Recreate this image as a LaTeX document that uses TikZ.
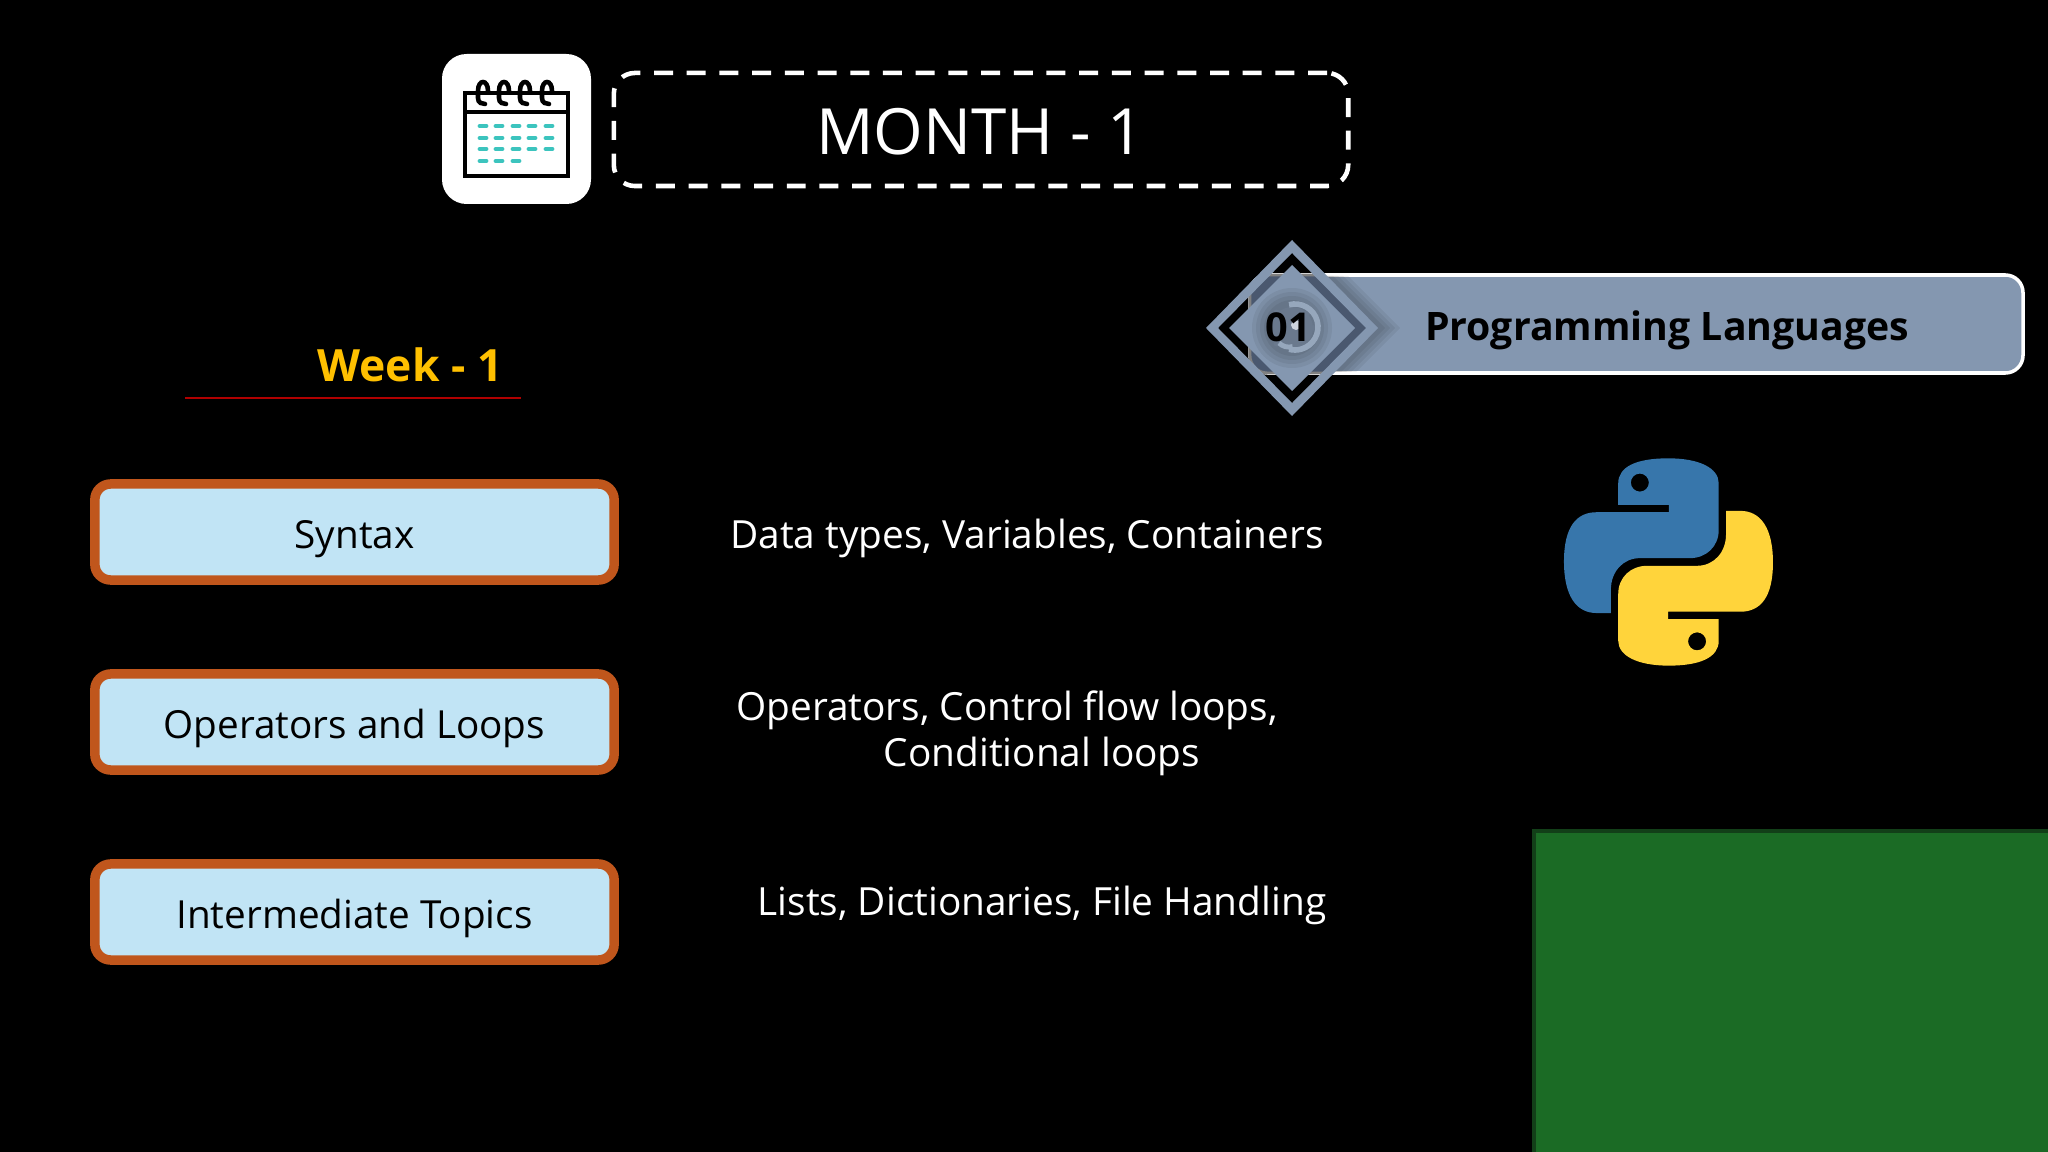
\documentclass[tikz,border=0pt]{standalone}
\usepackage{fontspec}
\setmainfont{Open Sans}
\usepackage{tikz}
\usetikzlibrary{positioning,calc}
\definecolor{topicfill}{HTML}{C1E4F5}
\definecolor{topicline}{HTML}{C0561C}
\definecolor{slate}{HTML}{8497B0}
\definecolor{slatedark}{HTML}{4A586F}
\definecolor{calteal}{HTML}{3CC4BE}
\definecolor{pyblue}{HTML}{3776AB}
\definecolor{pyyellow}{HTML}{FFD43B}
\definecolor{weekgold}{HTML}{FFC000}
\definecolor{weekred}{HTML}{B00000}
\definecolor{panelgreen}{HTML}{1B6B25}
\definecolor{paneledge}{HTML}{123F18}
\begin{document}
\begin{tikzpicture}[x=0.01cm,y=-0.01cm,line cap=butt,
    topicbox/.style={draw=topicline,fill=topicfill,line width=2.7pt,rounded corners=4.5pt,
        minimum width=5.19cm,minimum height=0.96cm,inner sep=0pt,text=black,text height=9.1pt,text depth=0pt,
        font=\fontsize{11}{13}\selectfont},
    topictext/.style={text=white,inner sep=0pt,font=\fontsize{11.03}{13}\selectfont}]

    % background
    \fill[black] (0,0) rectangle (2048,1152);
    \useasboundingbox (0,0) rectangle (2048,1152);

    % calendar icon
    \fill[white,rounded corners=7pt] (442,54) rectangle (591,204);
    \draw[black,line width=1.25pt] (465,93) rectangle (568,176);
    \draw[black,line width=1.25pt] (465,112) -- (568,112);
    \foreach \x in {483,504,525,547} {
        \draw[black,line width=1.3pt,line cap=round] (\x+5,91) .. controls (\x+5,79) and (\x-5,79) .. (\x-5,91)
            -- (\x-5,98) .. controls (\x-5,103) and (\x-1,104) .. (\x+2,104);
    }
    \foreach \y in {126,138,149} {
        \foreach \x in {483,499,516,532,549} {
            \draw[calteal,line width=1.4pt,line cap=round] (\x-3,\y) -- (\x+3,\y);
        }
    }
    \foreach \x in {483,499,516} {
        \draw[calteal,line width=1.4pt,line cap=round] (\x-3,161) -- (\x+3,161);
    }

    % month title
    \node[draw=white,line width=1.3pt,dash pattern=on 5.4pt off 3.9pt,rounded corners=6pt,
        minimum width=7.34cm,minimum height=1.13cm,inner sep=0pt] (monthbox) at (981,129.5) {};
    \node[text=white,inner sep=0pt,font=\fontsize{18.13}{22}\selectfont] (monthtext) at (980,132) {MONTH - 1};

    % ribbon with the diamond on it
    \draw[white,line width=1pt,fill=slate,rounded corners=5pt] (1250,275) rectangle (2023,373);
    \begin{scope}
        \clip[rounded corners=5pt] (1250,276) rectangle (2022,372);
        \foreach \r in {108,103,98,93} {
            \fill[black,opacity=0.06] (1292-\r,328) -- (1292,328-\r) -- (1292+\r,328) -- (1292,328+\r) -- cycle;
        }
        \fill[slatedark] (1217,328) -- (1292,253) -- (1367,328) -- (1292,403) -- cycle;
    \end{scope}
    \begin{scope}
        \clip (1217,328) -- (1292,253) -- (1367,328) -- (1292,403) -- cycle;
        \draw[gray,line width=0.8pt,rounded corners=5pt] (1250,275) rectangle (2023,373);
    \end{scope}
    \fill[slate,even odd rule] (1206,328) -- (1292,240) -- (1378,328) -- (1292,416) -- cycle
        (1218,328) -- (1292,253) -- (1366,328) -- (1292,403) -- cycle;
    \fill[slate] (1229,328) -- (1292,265) -- (1355,328) -- (1292,391) -- cycle;

    % gear behind the number
    \foreach \r in {40,36,32,28} {
        \fill[black,opacity=0.06] (1292,328) circle (\r);
    }
    \fill[slate!80!black] (1292,328) circle (21);
    \foreach \a in {0,45,...,315} {
        \fill[slate!80!black] (1292,328) ++(\a:22) circle (3);
    }
    \fill[slate!40!white] (1296,325) circle (5);
    \draw[slate!85!white,line width=1.6pt] (1295,327) ++(-105:23) arc[start angle=-105,end angle=105,radius=23];
    \draw[slate!85!white,line width=1.4pt] (1279,343) arc[start angle=135,end angle=75,radius=14];

    \node[text=black,inner sep=0pt,font=\fontsize{11.3}{13}\selectfont\bfseries] (number) at (1288,327) {01};
    \node[text=black,inner sep=0pt,font=\fontsize{11.15}{13}\selectfont\bfseries] (language) at (1667,330) {Programming Languages};

    % week heading
    \node[text=weekgold,inner sep=0pt,font=\fontsize{12.64}{15}\selectfont\bfseries] (week) at (410,365) {Week - 1};
    \coordinate (ruleleft) at (185,398);
    \coordinate (ruleright) at (521,398);
    \draw[weekred,line width=0.85pt] (ruleleft) -- (ruleright);

    % topics
    \foreach \y/\name/\label in {
        532/syntax/Syntax,
        722/operators/Operators and Loops,
        912/intermediate/Intermediate Topics}
            \node[topicbox] (\name) at (354.5,\y) {\label};

    \node[topictext] (syntaxtext) at (1027,538) {Data types, Variables, Containers};
    \node[topictext] (operatorstext) at (1007,710) {Operators, Control flow loops,};
    \node[topictext] (loopstext) at (1042,756) {Conditional loops};
    \node[topictext] (intermediatetext) at (1042,905) {Lists, Dictionaries, File Handling};

    % python logo
    \begin{scope}[shift={(1540,440)},x=0.00333cm,y=-0.00333cm]
        \fill[pyblue,even odd rule] (385,55) .. controls (290,55) and (235,80) .. (235,130) -- (235,195) -- (387,195) -- (387,217)
            -- (170,217) .. controls (110,217) and (72,260) .. (72,365) .. controls (72,470) and (110,520) .. (170,520)
            -- (213,520) -- (213,450) .. controls (213,395) and (250,355) .. (300,355)
            -- (450,355) .. controls (500,355) and (537,320) .. (537,270)
            -- (537,130) .. controls (537,85) and (480,55) .. (385,55) -- cycle
            (300,128) circle (27);
        \fill[pyyellow,even odd rule] (387,678) .. controls (482,678) and (537,653) .. (537,603) -- (537,538) -- (385,538) -- (385,516)
            -- (602,516) .. controls (662,516) and (700,473) .. (700,368) .. controls (700,263) and (662,213) .. (602,213)
            -- (559,213) -- (559,283) .. controls (559,338) and (522,378) .. (472,378)
            -- (322,378) .. controls (272,378) and (235,413) .. (235,463)
            -- (235,603) .. controls (235,648) and (292,678) .. (387,678) -- cycle
            (472,605) circle (27);
    \end{scope}

    % green panel
    \fill[paneledge] (1532,829) rectangle (2048,1152);
    \fill[panelgreen] (1536,833) rectangle (2048,1152);
\end{tikzpicture}
\end{document}
